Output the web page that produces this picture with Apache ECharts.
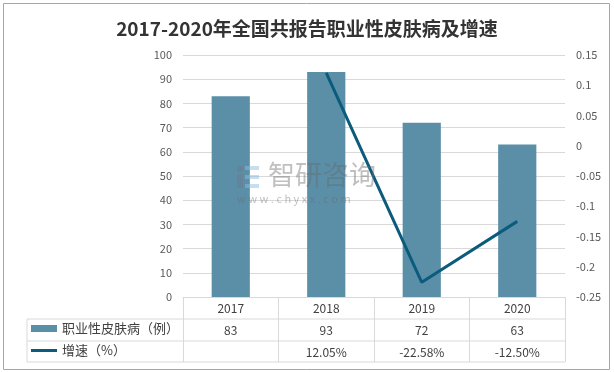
<!DOCTYPE html>
<html><head><meta charset="utf-8">
<script src="https://cdn.jsdelivr.net/npm/echarts@6/dist/echarts.min.js"></script>
<style>html,body{margin:0;padding:0;background:#fff}#c{width:614px;height:372px}</style>
</head><body><div id="c"></div>
<script>
const years = ['2017','2018','2019','2020'];
const cases = [83, 93, 72, 63];
const growth = [null, 0.1205, -0.2258, -0.125];
const growthText = ['', '12.05%', '-22.58%', '-12.50%'];
const barName = '职业性皮肤病（例）';
const lineName = '增速（%）';
const titleText = '2017-2020年全国共报告职业性皮肤病及增速';

const FONT = '"Noto Sans CJK SC","Noto Sans",sans-serif';
const chart = echarts.init(document.getElementById('c'));
const gridL = 183, gridR = 565, gridT = 55, gridB = 297;
const tableLine = {stroke:'#d9d9d9', lineWidth:1};
function hline(x1,x2,y){return {type:'line',shape:{x1:x1,y1:y,x2:x2,y2:y},style:tableLine,silent:true};}
function vline(x,y1,y2){return {type:'line',shape:{x1:x,y1:y1,x2:x,y2:y2},style:tableLine,silent:true};}

const rowAxis = (offset, labels) => ({
  type:'category', data:years, position:'bottom', offset:offset, gridIndex:0,
  axisLine:{show:false}, axisTick:{show:false}, splitLine:{show:false},
  axisLabel:{margin:5, fontSize:12, color:'#404040', fontFamily:FONT, interval:0,
    formatter:(v, i) => labels[i] === null || labels[i] === undefined ? '' : String(labels[i])}
});

const wmBlue = 'rgba(140,190,225,0.5)', wmGray = 'rgba(110,120,135,0.45)', wmText = 'rgba(105,105,105,0.42)';

chart.setOption({
  animation:false,
  backgroundColor:'#fff',
  title:{text:titleText, left:'center', top:14,
    textStyle:{fontSize:19, fontWeight:'bold', color:'#333', fontFamily:FONT}},
  grid:{left:gridL, right:614-gridR, top:gridT, bottom:372-gridB, containLabel:false},
  legend:[
    {data:[{name:barName, icon:'rect'}], left:31, top:322, itemWidth:26, itemHeight:7, itemGap:0,
      textStyle:{fontSize:13, color:'#404040', fontFamily:FONT}, padding:0, selectedMode:false},
    {data:[{name:lineName, icon:'rect'}], left:31, top:344, itemWidth:26, itemHeight:3, itemGap:0,
      textStyle:{fontSize:13, color:'#404040', fontFamily:FONT}, padding:0, selectedMode:false}
  ],
  xAxis:[
    {type:'category', data:years, position:'bottom',
      axisLine:{show:true, lineStyle:{color:'#d9d9d9'}},
      axisTick:{show:true, length:65, alignWithLabel:false, lineStyle:{color:'#d9d9d9'}},
      axisLabel:{margin:5, fontSize:12, color:'#404040', fontFamily:FONT}},
    rowAxis(22, cases),
    rowAxis(44, growthText)
  ],
  yAxis:[
    {type:'value', min:0, max:100, interval:10, position:'left',
      axisLine:{show:false}, axisTick:{show:false},
      splitLine:{lineStyle:{color:'#d9d9d9'}},
      axisLabel:{margin:11, fontSize:11, color:'#595959', fontFamily:FONT}},
    {type:'value', min:-0.25, max:0.15, interval:0.05, position:'right',
      axisLine:{show:false}, axisTick:{show:false}, splitLine:{show:false},
      axisLabel:{margin:11, fontSize:11, color:'#595959', fontFamily:FONT,
        formatter:v => String(+v.toFixed(2))}}
  ],
  series:[
    {name:barName, type:'bar', data:cases, xAxisIndex:0, yAxisIndex:0,
      barWidth:'40%', itemStyle:{color:'#5b8fa8'}, z:2},
    {name:lineName, type:'line', data:growth, xAxisIndex:0, yAxisIndex:1, z:3,
      showSymbol:false, symbol:'none', lineStyle:{width:3, color:'#0b5c7c'}, itemStyle:{color:'#0b5c7c'}}
  ],
  graphic:[
    {type:'rect', shape:{x:3.5,y:3.5,width:606,height:366}, style:{fill:null, stroke:'#a6a6a6', lineWidth:1}, silent:true, z:-1},
    hline(27, gridR, 319), hline(27, gridR, 341), hline(27, gridR, 362),
    vline(27, 319, 362),
    {type:'rect', z:50, silent:true, shape:{x:237,y:166,width:6,height:6}, style:{fill:wmGray}},
    {type:'rect', z:50, silent:true, shape:{x:237,y:174,width:6,height:14}, style:{fill:wmGray}},
    {type:'rect', z:50, silent:true, shape:{x:245,y:166,width:14,height:4}, style:{fill:wmBlue}},
    {type:'rect', z:50, silent:true, shape:{x:245,y:175,width:14,height:4}, style:{fill:wmBlue}},
    {type:'rect', z:50, silent:true, shape:{x:245,y:184,width:14,height:4}, style:{fill:wmBlue}},
    {type:'text', z:50, silent:true, x:268, y:161, style:{text:'智研咨询', fontSize:27, fill:wmText, fontFamily:FONT}},
    {type:'text', z:50, silent:true, x:237, y:193, style:{text:'w w w . c h y x x . c o m', fontSize:11, fill:wmText, fontFamily:FONT}}
  ]
});
</script></body></html>
